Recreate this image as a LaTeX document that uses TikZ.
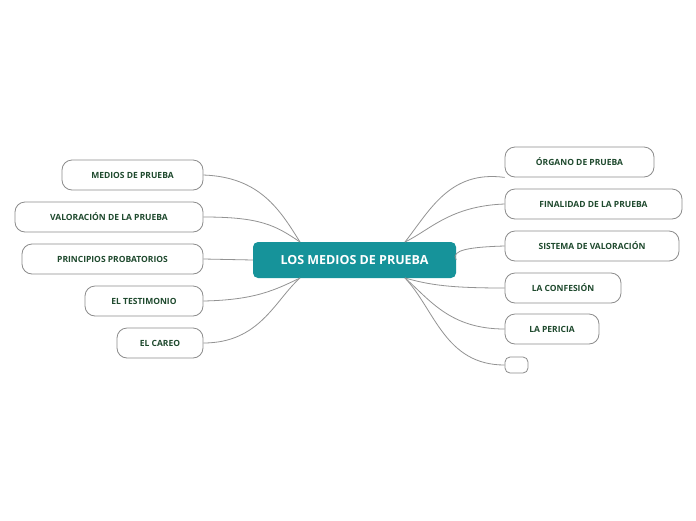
\documentclass[tikz,border=0pt]{standalone}
\usepackage{fontspec}
\setmainfont{Open Sans}
\definecolor{teal1}{HTML}{16939A}
\definecolor{txt}{HTML}{1F4A2E}
\begin{document}
\begin{tikzpicture}[x=1pt,y=-1pt,
 leaf/.style={draw=gray!90,line width=0.8pt,rounded corners=10pt,minimum height=30pt,inner xsep=0pt,text=txt,font=\bfseries\fontsize{8.5}{10}\selectfont},
 link/.style={draw=gray!85,line width=0.8pt}]
\fill[white] (0,0) rectangle (696,520);
\node[fill=teal1,rounded corners=5pt,minimum width=203pt,minimum height=36pt,text=white,font=\bfseries\fontsize{12.5}{14}\selectfont] (c) at (354.5,260) {LOS MEDIOS DE PRUEBA};
\node[leaf,minimum width=141pt] (l1) at (132.5,175) {MEDIOS DE PRUEBA};
\node[leaf,minimum width=188pt] (l2) at (109,217) {VALORACIÓN DE LA PRUEBA};
\node[leaf,minimum width=181pt] (l3) at (112.5,259) {PRINCIPIOS PROBATORIOS};
\node[leaf,minimum width=118pt] (l4) at (144,301) {EL TESTIMONIO};
\node[leaf,minimum width=86pt] (l5) at (160,343) {EL CAREO};
\node[leaf,minimum width=149pt] (r1) at (579.5,162) {ÓRGANO DE PRUEBA};
\node[leaf,minimum width=177pt] (r2) at (593.5,204) {FINALIDAD DE LA PRUEBA};
\node[leaf,minimum width=174pt] (r3) at (592,246) {SISTEMA DE VALORACIÓN};
\node[leaf,minimum width=116pt] (r4) at (563,288) {LA CONFESIÓN};
\node[leaf,minimum width=94pt] (r5) at (552,329) {LA PERICIA};
\node[leaf,minimum width=23pt,minimum height=16pt,rounded corners=5pt] (r6) at (516.5,365) {};
\coordinate (cl) at (300,242); \coordinate (cl2) at (300,278);
\coordinate (cr) at (405,242); \coordinate (cr2) at (405,278);
\draw[link] (l1.east) .. controls (260,177) and (280,210) .. (cl);
\draw[link] (l2.east) .. controls (260,217) and (275,225) .. (cl);
\draw[link] (l3.east) -- (c.west);
\draw[link] (l4.east) .. controls (255,300) and (275,290) .. (cl2);
\draw[link] (l5.east) .. controls (260,343) and (275,300) .. (cl2);
\draw[link] (r1.south west) .. controls (450,170) and (430,210) .. (cr);
\draw[link] (r2.west) .. controls (450,206) and (430,230) .. (cr);
\draw[link] (r3.west) .. controls (470,247) and (450,250) .. (c.east);
\draw[link] (r4.west) .. controls (450,288) and (430,285) .. (cr2);
\draw[link] (r5.west) .. controls (450,329) and (430,300) .. (cr2);
\draw[link] (r6.west) .. controls (445,365) and (435,310) .. (cr2);
\end{tikzpicture}
\end{document}
